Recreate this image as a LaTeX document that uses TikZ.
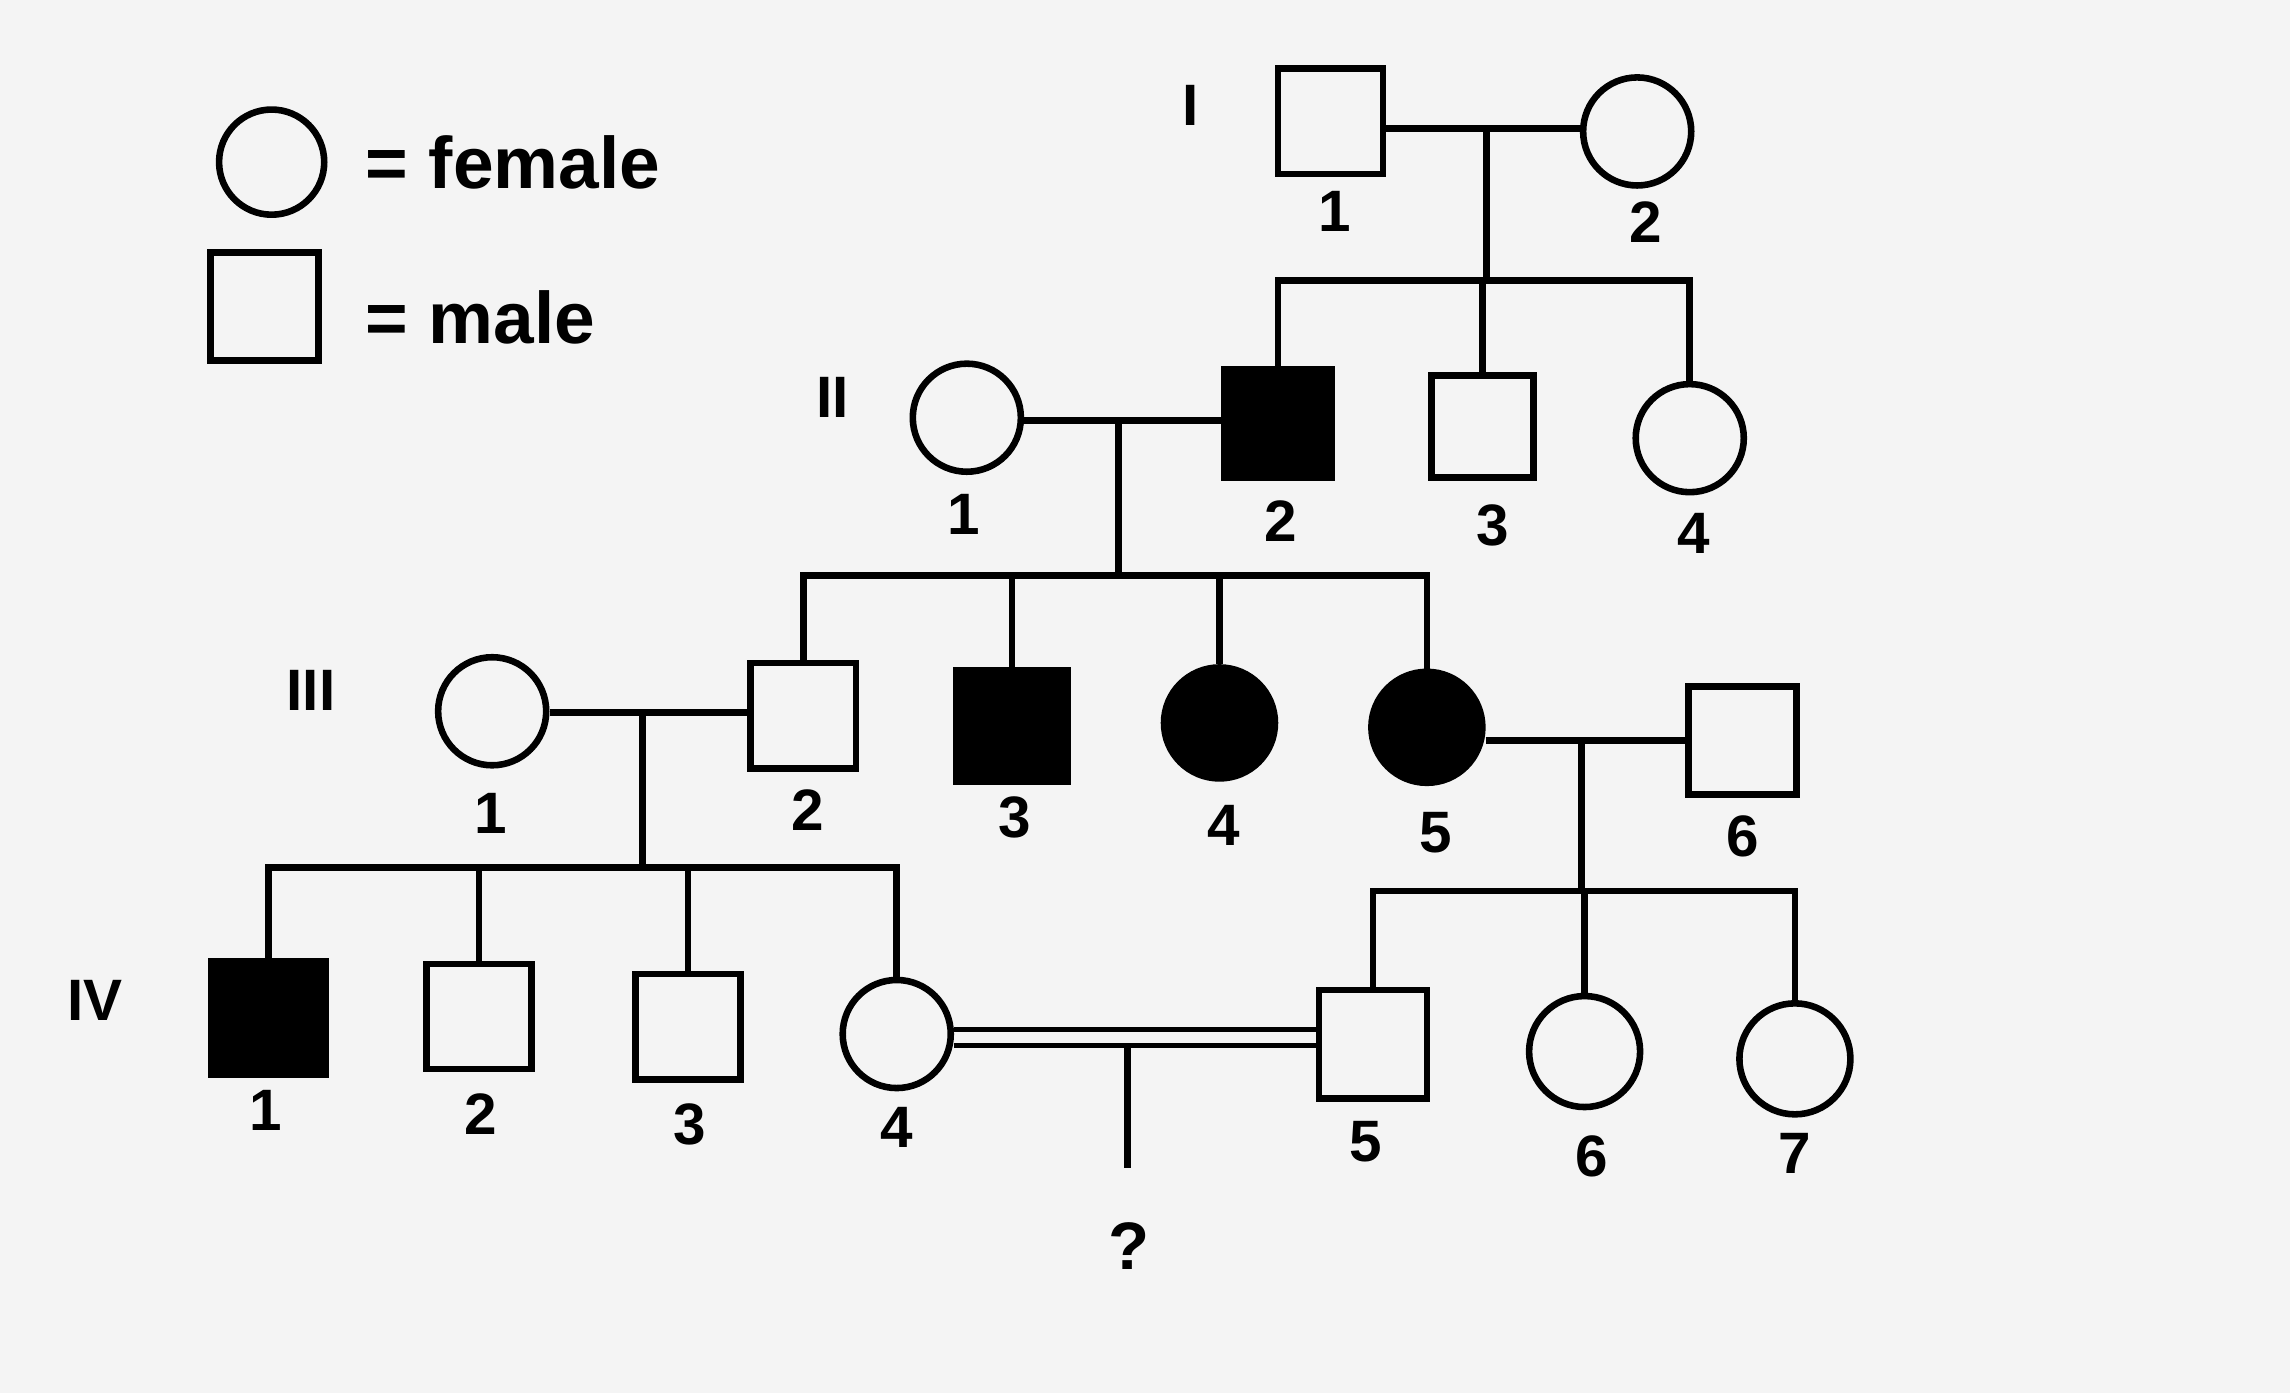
\documentclass[tikz,border=0pt]{standalone}
\usepackage{fontspec}
\setmainfont{Liberation Sans}
\begin{document}
\begin{tikzpicture}[x=1pt,y=-1pt,line width=4.5pt,
  sq/.style={draw,rectangle,minimum size=#1pt,inner sep=0pt},
  ci/.style={draw,circle,minimum size=#1pt,inner sep=0pt},
  af/.style={fill=black},
  num/.style={font=\fontsize{40}{40}\selectfont\bfseries},
  leg/.style={font=\fontsize{50}{50}\selectfont\bfseries,anchor=west}]
\fill[gray!9] (0,0) rectangle (1568,954);
\useasboundingbox (0,0) rectangle (1568,954);
% legend
\node[ci=72] (lf) at (186,111) {};
\node[leg] (lft) at (245,111) {= female};
\node[sq=74] (lm) at (181,210) {};
\node[leg] (lmt) at (245,217) {= male};
% generation labels
\node[num] (gI) at (815,72) {I};
\node[num] (gII) at (570,272) {II};
\node[num] (gIII) at (213,473) {III};
\node[num] (gIV) at (65,685) {IV};
% Gen I
\node[sq=72] (a1) at (911,83) {};
\node[ci=74] (a2) at (1121,90) {};
\node[num] at (914,145) {1};
\node[num] at (1127,152) {2};
\coordinate (ma) at (1018,88);
\draw (a1.east |- ma) -- (a2.west |- ma);
\coordinate (sa) at (1018,192);
\draw (ma) -- (sa);
% Gen II
\node[ci=74] (b1) at (662,286) {};
\node[sq=74,af] (b2) at (875,290) {};
\node[sq=70] (b3) at (1015,292) {};
\node[ci=74] (b4) at (1157,300) {};
\draw (b2.north) -- (b2.north |- sa) -- (b4.north |- sa) -- (b4.north);
\draw (b3.north |- sa) -- (b3.north);
\node[num] at (660,352) {1};
\node[num] at (877,357) {2};
\node[num] at (1022,360) {3};
\node[num] at (1160,365) {4};
\coordinate (mb) at (766,288);
\draw (b1.east |- mb) -- (b2.west |- mb);
\coordinate (sb) at (766,394);
\draw (mb) -- (sb);
% Gen III
\node[ci=74] (c1) at (337,487) {};
\node[sq=72] (c2) at (550,490) {};
\node[sq=76,af] (c3) at (693,497) {};
\node[ci=76,af] (c4) at (835,495) {};
\node[ci=76,af] (c5) at (977,498) {};
\node[sq=74] (c6) at (1193,507) {};
\draw (c2.north) -- (c2.north |- sb) -- (c5.north |- sb) -- (c5.north);
\draw (c3.north |- sb) -- (c3.north);
\draw (c4.north |- sb) -- (c4.north);
\node[num] at (336,557) {1};
\node[num] at (553,555) {2};
\node[num] at (695,560) {3};
\node[num] at (838,565) {4};
\node[num] at (983,570) {5};
\node[num] at (1193,573) {6};
\coordinate (mc) at (440,488);
\draw (c1.east |- mc) -- (c2.west |- mc);
\coordinate (sc) at (440,594);
\draw (mc) -- (sc);
\coordinate (md) at (1083,507);
\draw (c5.east |- md) -- (c6.west |- md);
\coordinate (sd) at (1083,610);
\draw (md) -- (sd);
% Gen IV
\node[sq=78,af] (d1) at (184,697) {};
\node[sq=72] (d2) at (328,696) {};
\node[sq=72] (d3) at (471,703) {};
\node[ci=74] (d4) at (614,708) {};
\node[sq=74] (d5) at (940,715) {};
\node[ci=76] (d6) at (1085,720) {};
\node[ci=76] (d7) at (1229,725) {};
\draw (d1.north) -- (d1.north |- sc) -- (d4.north |- sc) -- (d4.north);
\draw (d2.north |- sc) -- (d2.north);
\draw (d3.north |- sc) -- (d3.north);
\draw (d5.north) -- (d5.north |- sd) -- (d7.north |- sd) -- (d7.north);
\draw (d6.north |- sd) -- (d6.north);
\node[num] at (182,760) {1};
\node[num] at (329,763) {2};
\node[num] at (472,770) {3};
\node[num] at (614,772) {4};
\node[num] at (935,782) {5};
\node[num] at (1090,792) {6};
\node[num] at (1229,790) {7};
% consanguineous mating
\draw[line width=3.5pt] (d4.east |- 0,705) -- (d5.west |- 0,705);
\draw[line width=3.5pt] (d4.east |- 0,716) -- (d5.west |- 0,716);
\coordinate (me) at (772,716);
\node[num,font=\fontsize{46}{46}\selectfont\bfseries] (q) at (773,853) {?};
\draw (me) -- (772,800);
\end{tikzpicture}
\end{document}
